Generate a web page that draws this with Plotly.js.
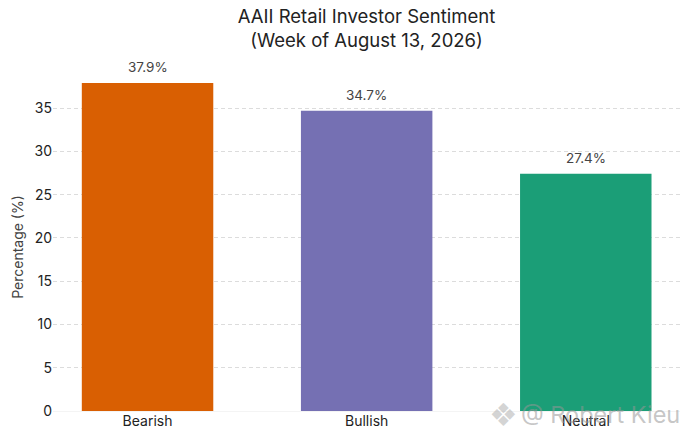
<!DOCTYPE html>
<html><head><meta charset="utf-8">
<script src="https://cdn.plot.ly/plotly-3.0.1.min.js"></script>
<style>html,body{margin:0;padding:0;background:#fff}</style>
</head><body><div id="c" style="width:690px;height:440px"></div>
<script>
const categories=["Bearish","Bullish","Neutral"];
const values=[37.9,34.7,27.4];
const labels=["37.9%","34.7%","27.4%"];
const colors=["#d95f02","#7570b3","#1b9e77"];
const titleText="AAII Retail Investor Sentiment<br>(Week of August 13, 2026)";
const watermark="@ Robert Kieu";
const f="Inter, Roboto, sans-serif";
const anns=categories.map((c,i)=>({x:c,y:values[i],text:labels[i],showarrow:false,xanchor:"center",yanchor:"bottom",yshift:6,
  font:{family:f,size:13.5,color:"#444"}}));
anns.push({xref:"paper",yref:"paper",x:1.003,y:-0.012,xanchor:"right",yanchor:"middle",showarrow:false,text:watermark,
  font:{family:f,size:23.5,color:"rgba(150,150,150,0.55)"}});
anns.push({xref:"paper",yref:"paper",x:0.718,y:-0.012,xanchor:"center",yanchor:"middle",showarrow:false,text:"❖",
  font:{family:"DejaVu Sans",size:32,color:"rgba(170,170,170,0.5)"}});
Plotly.newPlot("c",[{type:"bar",x:categories,y:values,cliponaxis:false,
 marker:{color:colors},width:0.6}],{
 width:690,height:440,paper_bgcolor:"#fff",plot_bgcolor:"#fff",showlegend:false,
 margin:{l:53,r:10,t:83,b:29},
 font:{family:f,color:"#333"},annotations:anns,
 title:{text:titleText,x:0.5,xref:"paper",xanchor:"center",y:0.947,yanchor:"top",font:{family:f,size:18.5,color:"#222"}},
 xaxis:{tickfont:{size:14,color:"#222"},showgrid:false,zeroline:false,ticks:"",range:[-0.4315,2.43]},
 yaxis:{title:{text:"Percentage (%)",font:{size:14,color:"#444"},standoff:7},range:[0,37.9],tick0:0,dtick:5,tickfont:{size:14,color:"#222"},
  gridcolor:"#dcdcdc",griddash:"4px,3px",gridwidth:1,zeroline:true,zerolinecolor:"#f4f4f4",zerolinewidth:1,ticks:"",showline:false}
},{displayModeBar:false});
</script></body></html>
